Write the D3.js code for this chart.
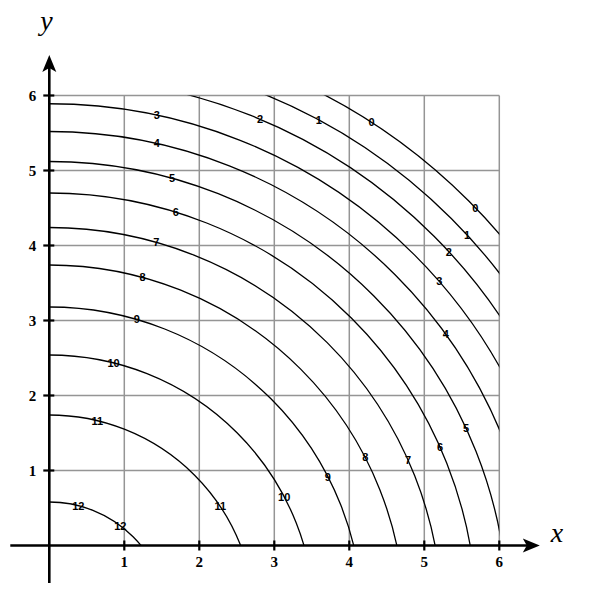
<!DOCTYPE html>
<html>
<head>
<meta charset="utf-8">
<script src="https://cdn.jsdelivr.net/npm/d3@7"></script>
<style>
body { margin: 0; background: #fff; }
</style>
</head>
<body>
<svg id="chart" width="602" height="596"></svg>
<script>
// contour levels and the radius of each level curve (data units)
// every curve is a circle around the same centre, just below the origin
const levels = [0, 1, 2, 3, 4, 5, 6, 7, 8, 9, 10, 11, 12];
const radii = [7.91, 7.58, 7.25, 6.89, 6.52, 6.12, 5.70, 5.24, 4.74, 4.18, 3.54, 2.74, 1.58];
const centre = [0, -1];

// inline contour labels: level and angle (degrees) around the centre
const labelLevels = [0, 0, 1, 1, 2, 2, 3, 3, 4, 4, 5, 5, 6, 6, 7, 7, 8, 8, 9, 9, 10, 10, 11, 11, 12, 12];
const labelAngles = [57.1, 44.1, 61.7, 42.7, 67.2, 42.7, 78.0, 41.0, 77.3, 35.8, 74.5, 24.8,
    72.8, 23.9, 74.2, 24.1, 74.8, 27.3, 73.8, 27.3, 76.0, 27.8, 76.5, 33.7, 75.8, 53.2];

const tickValues = [1, 2, 3, 4, 5, 6];
const gridValues = [1, 2, 3, 4, 5, 6];

const svg = d3.select('#chart');

const xScale = d3.scaleLinear().domain([0, 6]).range([49.3, 499.3]);
const yScale = d3.scaleLinear().domain([0, 6]).range([545.5, 95.5]);

const cx = xScale(centre[0]);
const cy = yScale(centre[1]);
const toPx = r => xScale(r) - xScale(0);

// grid
const grid = svg.append('g')
    .attr('stroke', '#959595')
    .attr('stroke-width', 1.5);

grid.selectAll('.vx')
    .data(gridValues)
    .enter().append('line')
    .attr('x1', d => xScale(d)).attr('x2', d => xScale(d))
    .attr('y1', yScale(0)).attr('y2', yScale(6));

grid.selectAll('.hy')
    .data(gridValues)
    .enter().append('line')
    .attr('y1', d => yScale(d)).attr('y2', d => yScale(d))
    .attr('x1', xScale(0)).attr('x2', xScale(6));

// contours, clipped to the plot square
svg.append('clipPath').attr('id', 'box')
    .append('rect')
    .attr('x', xScale(0))
    .attr('y', yScale(6))
    .attr('width', xScale(6) - xScale(0))
    .attr('height', yScale(0) - yScale(6));

svg.append('g')
    .attr('clip-path', 'url(#box)')
    .selectAll('circle')
    .data(levels)
    .enter().append('circle')
    .attr('cx', cx)
    .attr('cy', cy)
    .attr('r', (d, i) => toPx(radii[i]))
    .attr('fill', 'none')
    .attr('stroke', '#000')
    .attr('stroke-width', 1.3);

// axes
const axisX = [-0.52, 6.54];
const axisY = [-0.5, 6.54];
const axes = svg.append('g').attr('stroke', '#000').attr('stroke-width', 2.6);

axes.append('line')
    .attr('x1', xScale(axisX[0])).attr('x2', xScale(axisX[1]) - 10)
    .attr('y1', yScale(0)).attr('y2', yScale(0));
axes.append('line')
    .attr('x1', xScale(0)).attr('x2', xScale(0))
    .attr('y1', yScale(axisY[0])).attr('y2', yScale(axisY[1]) + 10);

const arrow = d3.path();
let tx = xScale(axisX[1]), ty = yScale(0);
arrow.moveTo(tx, ty);
arrow.lineTo(tx - 17, ty - 7);
arrow.lineTo(tx - 13, ty);
arrow.lineTo(tx - 17, ty + 7);
arrow.closePath();
tx = xScale(0); ty = yScale(axisY[1]);
arrow.moveTo(tx, ty);
arrow.lineTo(tx - 7, ty + 17);
arrow.lineTo(tx, ty + 13);
arrow.lineTo(tx + 7, ty + 17);
arrow.closePath();
svg.append('path').attr('d', arrow.toString()).attr('fill', '#000');

// tick marks
const tk = svg.append('g').attr('stroke', '#000').attr('stroke-width', 2.2);
tk.selectAll('.tx')
    .data(tickValues)
    .enter().append('line')
    .attr('x1', d => xScale(d)).attr('x2', d => xScale(d))
    .attr('y1', yScale(0) - 5).attr('y2', yScale(0) + 5);
tk.selectAll('.ty')
    .data(tickValues)
    .enter().append('line')
    .attr('y1', d => yScale(d)).attr('y2', d => yScale(d))
    .attr('x1', xScale(0) - 6).attr('x2', xScale(0) + 5);

// tick labels
const tickFont = g => g
    .attr('font-family', '"Liberation Serif", "Times New Roman", serif')
    .attr('font-weight', 'bold')
    .attr('font-size', 15)
    .attr('fill', '#000');

svg.append('g').call(tickFont)
    .selectAll('text')
    .data(tickValues)
    .enter().append('text')
    .attr('x', d => xScale(d))
    .attr('y', yScale(0) + 21.5)
    .attr('text-anchor', 'middle')
    .text(d => d);

svg.append('g').call(tickFont)
    .selectAll('text')
    .data(tickValues)
    .enter().append('text')
    .attr('x', xScale(0) - 13)
    .attr('y', d => yScale(d) + 5.5)
    .attr('text-anchor', 'end')
    .text(d => d);

// axis names
svg.append('text')
    .attr('x', xScale(axisX[1]) + 11)
    .attr('y', yScale(0) - 4)
    .attr('font-family', '"Liberation Serif", "Times New Roman", serif')
    .attr('font-style', 'italic')
    .attr('font-size', 28)
    .text('x');

svg.append('text')
    .attr('x', xScale(0) - 9)
    .attr('y', yScale(axisY[1]) - 25)
    .attr('font-family', '"Liberation Serif", "Times New Roman", serif')
    .attr('font-style', 'italic')
    .attr('font-size', 28)
    .text('y');

// contour labels
svg.append('g')
    .attr('font-family', '"Liberation Sans", Arial, sans-serif')
    .attr('font-weight', 'bold')
    .attr('font-size', 11)
    .attr('text-anchor', 'middle')
    .attr('dominant-baseline', 'central')
    .selectAll('text')
    .data(labelLevels)
    .enter().append('text')
    .attr('x', (d, i) => cx + toPx(radii[d]) * Math.cos(labelAngles[i] * Math.PI / 180))
    .attr('y', (d, i) => cy - toPx(radii[d]) * Math.sin(labelAngles[i] * Math.PI / 180))
    .text(d => d);
</script>
</body>
</html>
